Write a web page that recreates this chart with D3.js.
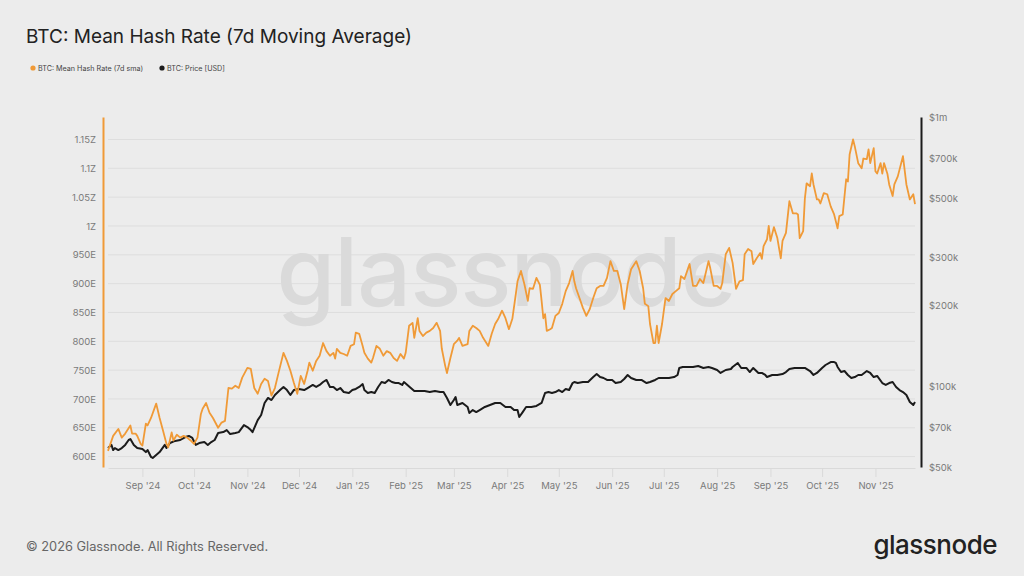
<!DOCTYPE html>
<html>
<head>
<meta charset="utf-8">
<script src="https://cdn.jsdelivr.net/npm/d3@7"></script>
<style>
  html, body { margin: 0; padding: 0; background: #ececec; }
  svg { display: block; font-family: Inter, "Noto Sans", sans-serif; }
</style>
</head>
<body>
<div id="chart"></div>
<script>
// hash rate, EH/s (7d sma)
const hashRate = [
  ["2024-08-12", 610], ["2024-08-15", 636], ["2024-08-18", 648], ["2024-08-20", 633], ["2024-08-22", 640],
  ["2024-08-25", 654], ["2024-08-26", 640], ["2024-08-28", 640], ["2024-08-29", 636], ["2024-08-31", 622],
  ["2024-09-01", 619], ["2024-09-03", 657], ["2024-09-04", 654], ["2024-09-06", 667], ["2024-09-09", 692],
  ["2024-09-11", 667], ["2024-09-13", 645], ["2024-09-15", 622], ["2024-09-16", 616], ["2024-09-18", 642],
  ["2024-09-19", 628], ["2024-09-21", 638], ["2024-09-23", 633], ["2024-09-25", 636], ["2024-09-27", 633],
  ["2024-09-29", 628], ["2024-10-01", 622], ["2024-10-03", 633], ["2024-10-05", 674], ["2024-10-06", 683],
  ["2024-10-08", 693], ["2024-10-10", 676], ["2024-10-12", 667], ["2024-10-15", 650], ["2024-10-17", 659],
  ["2024-10-19", 662], ["2024-10-21", 719], ["2024-10-23", 718], ["2024-10-25", 723], ["2024-10-27", 719],
  ["2024-10-29", 737], ["2024-11-01", 754], ["2024-11-03", 752], ["2024-11-05", 719], ["2024-11-07", 709],
  ["2024-11-09", 726], ["2024-11-11", 735], ["2024-11-13", 731], ["2024-11-15", 706], ["2024-11-17", 719],
  ["2024-11-19", 744], ["2024-11-22", 780], ["2024-11-24", 766], ["2024-11-26", 749], ["2024-11-28", 728],
  ["2024-11-30", 709], ["2024-12-02", 740], ["2024-12-04", 726], ["2024-12-06", 749], ["2024-12-07", 763],
  ["2024-12-09", 749], ["2024-12-11", 766], ["2024-12-13", 775], ["2024-12-15", 797], ["2024-12-17", 783],
  ["2024-12-19", 775], ["2024-12-21", 780], ["2024-12-22", 770], ["2024-12-23", 787], ["2024-12-25", 780],
  ["2024-12-27", 778], ["2024-12-29", 775], ["2024-12-31", 792], ["2025-01-02", 795], ["2025-01-03", 815],
  ["2025-01-05", 813], ["2025-01-07", 792], ["2025-01-08", 780], ["2025-01-10", 770], ["2025-01-12", 763],
  ["2025-01-13", 771], ["2025-01-15", 792], ["2025-01-17", 787], ["2025-01-19", 775], ["2025-01-21", 783],
  ["2025-01-23", 780], ["2025-01-25", 771], ["2025-01-27", 766], ["2025-01-29", 778], ["2025-01-31", 770],
  ["2025-02-01", 780], ["2025-02-03", 827], ["2025-02-05", 832], ["2025-02-06", 806], ["2025-02-08", 840],
  ["2025-02-09", 818], ["2025-02-11", 809], ["2025-02-13", 815], ["2025-02-15", 818], ["2025-02-17", 823],
  ["2025-02-19", 832], ["2025-02-21", 818], ["2025-02-22", 787], ["2025-02-24", 757], ["2025-02-25", 745],
  ["2025-02-27", 771], ["2025-03-01", 795], ["2025-03-03", 801], ["2025-03-04", 806], ["2025-03-06", 792],
  ["2025-03-09", 795], ["2025-03-10", 818], ["2025-03-12", 827], ["2025-03-14", 823], ["2025-03-16", 818],
  ["2025-03-18", 806], ["2025-03-21", 792], ["2025-03-23", 813], ["2025-03-25", 830], ["2025-03-27", 840],
  ["2025-03-29", 853], ["2025-03-31", 840], ["2025-04-02", 821], ["2025-04-04", 839], ["2025-04-06", 882],
  ["2025-04-07", 904], ["2025-04-09", 922], ["2025-04-11", 899], ["2025-04-13", 870], ["2025-04-14", 892],
  ["2025-04-16", 891], ["2025-04-18", 910], ["2025-04-20", 898], ["2025-04-21", 870], ["2025-04-22", 840],
  ["2025-04-23", 847], ["2025-04-24", 818], ["2025-04-26", 821], ["2025-04-27", 823], ["2025-04-29", 844],
  ["2025-05-01", 849], ["2025-05-03", 865], ["2025-05-05", 887], ["2025-05-07", 901], ["2025-05-09", 922],
  ["2025-05-10", 904], ["2025-05-11", 892], ["2025-05-13", 875], ["2025-05-15", 858], ["2025-05-17", 844],
  ["2025-05-19", 856], ["2025-05-21", 875], ["2025-05-23", 892], ["2025-05-25", 896], ["2025-05-27", 896],
  ["2025-05-29", 910], ["2025-05-31", 939], ["2025-06-02", 922], ["2025-06-04", 922], ["2025-06-06", 899],
  ["2025-06-08", 856], ["2025-06-10", 899], ["2025-06-12", 925], ["2025-06-15", 939], ["2025-06-17", 922],
  ["2025-06-19", 892], ["2025-06-20", 865], ["2025-06-22", 861], ["2025-06-23", 830], ["2025-06-25", 797],
  ["2025-06-26", 797], ["2025-06-27", 827], ["2025-06-28", 797], ["2025-06-30", 830], ["2025-07-02", 875],
  ["2025-07-04", 870], ["2025-07-06", 882], ["2025-07-08", 887], ["2025-07-10", 892], ["2025-07-11", 913],
  ["2025-07-13", 908], ["2025-07-16", 934], ["2025-07-18", 896], ["2025-07-20", 896], ["2025-07-22", 908],
  ["2025-07-24", 901], ["2025-07-27", 939], ["2025-07-28", 927], ["2025-07-30", 896], ["2025-08-01", 896],
  ["2025-08-03", 891], ["2025-08-04", 901], ["2025-08-06", 951], ["2025-08-08", 962], ["2025-08-10", 936],
  ["2025-08-12", 891], ["2025-08-14", 904], ["2025-08-16", 906], ["2025-08-17", 951], ["2025-08-19", 960],
  ["2025-08-21", 956], ["2025-08-22", 934], ["2025-08-24", 944], ["2025-08-26", 953], ["2025-08-27", 943],
  ["2025-08-28", 965], ["2025-08-30", 977], ["2025-08-31", 1000], ["2025-09-01", 974], ["2025-09-03", 998],
  ["2025-09-05", 979], ["2025-09-07", 944], ["2025-09-08", 974], ["2025-09-10", 988], ["2025-09-12", 1043],
  ["2025-09-14", 1022], ["2025-09-16", 1022], ["2025-09-17", 1020], ["2025-09-18", 979], ["2025-09-20", 991],
  ["2025-09-21", 1048], ["2025-09-22", 1074], ["2025-09-24", 1069], ["2025-09-25", 1091], ["2025-09-26", 1072],
  ["2025-09-28", 1046], ["2025-09-29", 1046], ["2025-09-30", 1039], ["2025-10-02", 1057], ["2025-10-04", 1055],
  ["2025-10-06", 1034], ["2025-10-08", 1020], ["2025-10-09", 1008], ["2025-10-10", 996], ["2025-10-11", 1017],
  ["2025-10-13", 1020], ["2025-10-15", 1081], ["2025-10-16", 1077], ["2025-10-17", 1124], ["2025-10-19", 1150],
  ["2025-10-20", 1138], ["2025-10-22", 1109], ["2025-10-24", 1100], ["2025-10-25", 1117], ["2025-10-27", 1116],
  ["2025-10-28", 1133], ["2025-10-29", 1109], ["2025-10-31", 1135], ["2025-11-01", 1095], ["2025-11-02", 1091],
  ["2025-11-04", 1109], ["2025-11-05", 1091], ["2025-11-06", 1109], ["2025-11-08", 1090], ["2025-11-09", 1072],
  ["2025-11-11", 1052], ["2025-11-12", 1072], ["2025-11-14", 1086], ["2025-11-17", 1121], ["2025-11-19", 1072],
  ["2025-11-21", 1046], ["2025-11-23", 1055], ["2025-11-24", 1038]
];

// BTC price, USD
const price = [
  ["2024-08-12", 58800], ["2024-08-14", 60400], ["2024-08-15", 57800], ["2024-08-16", 58800], ["2024-08-18", 57800],
  ["2024-08-20", 58800], ["2024-08-22", 60400], ["2024-08-24", 63000], ["2024-08-25", 63500], ["2024-08-27", 60400],
  ["2024-08-29", 58800], ["2024-09-01", 58300], ["2024-09-03", 56800], ["2024-09-04", 57800], ["2024-09-06", 54500],
  ["2024-09-07", 54000], ["2024-09-09", 55400], ["2024-09-11", 56800], ["2024-09-14", 60400], ["2024-09-15", 58800],
  ["2024-09-17", 61400], ["2024-09-20", 62500], ["2024-09-23", 63000], ["2024-09-26", 64600], ["2024-09-28", 65200],
  ["2024-09-30", 64100], ["2024-10-02", 60400], ["2024-10-04", 61400], ["2024-10-07", 61900], ["2024-10-09", 60400],
  ["2024-10-11", 61900], ["2024-10-13", 63000], ["2024-10-15", 66900], ["2024-10-18", 67400], ["2024-10-20", 68600],
  ["2024-10-22", 66300], ["2024-10-25", 66900], ["2024-10-27", 67400], ["2024-10-30", 71600], ["2024-11-01", 70400],
  ["2024-11-03", 68600], ["2024-11-04", 67400], ["2024-11-07", 74700], ["2024-11-09", 78000], ["2024-11-11", 86500],
  ["2024-11-13", 90300], ["2024-11-15", 88700], ["2024-11-17", 92600], ["2024-11-20", 96600], ["2024-11-22", 99200],
  ["2024-11-24", 96600], ["2024-11-26", 92600], ["2024-11-28", 96600], ["2024-12-01", 97500], ["2024-12-04", 96600],
  ["2024-12-06", 98300], ["2024-12-09", 100900], ["2024-12-11", 99200], ["2024-12-13", 100900], ["2024-12-15", 103500],
  ["2024-12-17", 105300], ["2024-12-19", 99200], ["2024-12-21", 99200], ["2024-12-23", 96600], ["2024-12-25", 98300],
  ["2024-12-27", 95000], ["2024-12-30", 94200], ["2025-01-01", 96600], ["2025-01-03", 97500], ["2025-01-05", 99200],
  ["2025-01-07", 101700], ["2025-01-08", 96600], ["2025-01-10", 94200], ["2025-01-12", 95000], ["2025-01-14", 94200],
  ["2025-01-16", 99200], ["2025-01-18", 103500], ["2025-01-20", 102600], ["2025-01-22", 105300], ["2025-01-24", 103500],
  ["2025-01-26", 102600], ["2025-01-28", 102600], ["2025-01-30", 100900], ["2025-01-31", 103500], ["2025-02-02", 100900],
  ["2025-02-04", 98300], ["2025-02-06", 95800], ["2025-02-09", 95800], ["2025-02-12", 95800], ["2025-02-15", 95000],
  ["2025-02-18", 95800], ["2025-02-21", 95000], ["2025-02-23", 95000], ["2025-02-25", 90300], ["2025-02-27", 85000],
  ["2025-03-01", 88700], ["2025-03-02", 91000], ["2025-03-03", 85000], ["2025-03-06", 86500], ["2025-03-09", 83600],
  ["2025-03-10", 79400], ["2025-03-12", 81400], ["2025-03-14", 80000], ["2025-03-16", 81400], ["2025-03-19", 83600],
  ["2025-03-22", 85000], ["2025-03-25", 86500], ["2025-03-28", 86500], ["2025-03-31", 83600], ["2025-04-03", 83600],
  ["2025-04-05", 81400], ["2025-04-07", 81400], ["2025-04-08", 76700], ["2025-04-10", 80000], ["2025-04-12", 83600],
  ["2025-04-15", 83600], ["2025-04-18", 84300], ["2025-04-21", 86500], ["2025-04-22", 90300], ["2025-04-23", 94200],
  ["2025-04-25", 95000], ["2025-04-27", 94200], ["2025-04-29", 95000], ["2025-05-01", 96600], ["2025-05-03", 95000],
  ["2025-05-05", 97500], ["2025-05-07", 96600], ["2025-05-09", 102600], ["2025-05-10", 103500], ["2025-05-12", 102600],
  ["2025-05-15", 103500], ["2025-05-18", 103500], ["2025-05-21", 108000], ["2025-05-23", 110800], ["2025-05-25", 108000],
  ["2025-05-27", 107100], ["2025-05-29", 105300], ["2025-06-01", 105300], ["2025-06-03", 102600], ["2025-06-06", 103500],
  ["2025-06-08", 106200], ["2025-06-10", 109900], ["2025-06-12", 107100], ["2025-06-15", 105300], ["2025-06-18", 105300],
  ["2025-06-21", 102600], ["2025-06-23", 103500], ["2025-06-26", 105300], ["2025-06-28", 107100], ["2025-07-01", 107100],
  ["2025-07-04", 107100], ["2025-07-07", 108000], ["2025-07-09", 109900], ["2025-07-10", 116700], ["2025-07-12", 117700],
  ["2025-07-15", 117700], ["2025-07-18", 117700], ["2025-07-21", 118700], ["2025-07-24", 116700], ["2025-07-27", 117700],
  ["2025-07-29", 116700], ["2025-08-01", 114700], ["2025-08-03", 111800], ["2025-08-06", 114700], ["2025-08-09", 115700],
  ["2025-08-10", 117700], ["2025-08-13", 121800], ["2025-08-15", 116700], ["2025-08-18", 116700], ["2025-08-20", 112700],
  ["2025-08-22", 116700], ["2025-08-25", 111800], ["2025-08-27", 111800], ["2025-08-29", 109900], ["2025-08-30", 108000],
  ["2025-09-02", 109900], ["2025-09-05", 109900], ["2025-09-08", 110800], ["2025-09-10", 112700], ["2025-09-12", 115700],
  ["2025-09-15", 116700], ["2025-09-18", 116700], ["2025-09-21", 116700], ["2025-09-24", 113700], ["2025-09-26", 109900],
  ["2025-09-28", 111800], ["2025-10-01", 116700], ["2025-10-03", 119700], ["2025-10-06", 122800], ["2025-10-08", 122800],
  ["2025-10-09", 121800], ["2025-10-10", 117700], ["2025-10-12", 112700], ["2025-10-14", 113700], ["2025-10-16", 109900],
  ["2025-10-18", 107100], ["2025-10-20", 108000], ["2025-10-22", 109900], ["2025-10-24", 109900], ["2025-10-27", 113700],
  ["2025-10-29", 111800], ["2025-10-31", 108000], ["2025-11-02", 109000], ["2025-11-05", 102600], ["2025-11-07", 100900],
  ["2025-11-09", 102600], ["2025-11-11", 103500], ["2025-11-13", 99200], ["2025-11-15", 96600], ["2025-11-17", 95000],
  ["2025-11-19", 92600], ["2025-11-21", 87200], ["2025-11-23", 85000], ["2025-11-24", 87200]
];

const hashTicks = [600, 650, 700, 750, 800, 850, 900, 950, 1000, 1050, 1100, 1150];
const priceTicks = [50000, 70000, 100000, 200000, 300000, 500000, 700000, 1000000];
const priceTickLabels = ["$50k", "$70k", "$100k", "$200k", "$300k", "$500k", "$700k", "$1m"];
const monthTicks = ["2024-09-01", "2024-10-01", "2024-11-01", "2024-12-01", "2025-01-01", "2025-02-01",
  "2025-03-01", "2025-04-01", "2025-05-01", "2025-06-01", "2025-07-01", "2025-08-01", "2025-09-01",
  "2025-10-01", "2025-11-01"];
const seriesNames = ["BTC: Mean Hash Rate (7d sma)", "BTC: Price [USD]"];

const parse = d3.timeParse("%Y-%m-%d");
const hashData = hashRate.map(d => ({ date: parse(d[0]), value: d[1] }));
const priceData = price.map(d => ({ date: parse(d[0]), value: d[1] }));

let width = 1024, height = 576;
let plot = { left: 108, right: 915, top: 117, bottom: 467 };
let orange = "#f09a37", black = "#1b1b1b";

let svg = d3.select("#chart")
            .append("svg")
            .attr("width", width)
            .attr("height", height)

svg.append("rect")
   .attr("width", width)
   .attr("height", height)
   .attr("fill", "#ececec")

let xscale = d3.scaleTime()
               .domain([parse("2024-08-12"), parse("2025-11-24")])
               .range([plot.left, plot.right])

let yHash = d3.scaleLinear()
              .domain([582, 1189])
              .range([plot.bottom, plot.top])

let yPrice = d3.scaleLog()
               .domain([50000, 1000000])
               .range([plot.bottom, plot.top])

// grid
svg.append("g")
   .selectAll("line")
   .data(hashTicks)
   .enter()
   .append("line")
   .attr("x1", plot.left)
   .attr("x2", plot.right)
   .attr("y1", d => yHash(d))
   .attr("y2", d => yHash(d))
   .attr("stroke", "#dedede")
   .attr("stroke-width", 1)

// watermark
svg.append("text")
   .text("glassnode")
   .attr("x", 506)
   .attr("y", 306)
   .attr("text-anchor", "middle")
   .attr("font-size", 95)
   .attr("font-weight", 500)
   .attr("letter-spacing", -1)
   .attr("fill", "#dadada")

// x axis
let xaxis = svg.append("g")
               .attr("transform", `translate(0,${plot.bottom + 1})`)
               .call(d3.axisBottom(xscale)
                       .tickValues(monthTicks.map(parse))
                       .tickFormat(d3.timeFormat("%b '%y"))
                       .tickSize(9)
                       .tickSizeOuter(0)
                       .tickPadding(5))
xaxis.select(".domain").attr("stroke", "#dadada")
xaxis.selectAll(".tick line").attr("stroke", "#dadada")
xaxis.selectAll("text").attr("fill", "#7a7a7a").attr("font-size", 9.5).attr("font-family", "Inter")

// left axis
let yaxis = svg.append("g")
               .attr("transform", "translate(103,0)")
               .call(d3.axisLeft(yHash)
                       .tickValues(hashTicks)
                       .tickFormat(d => d >= 1000 ? (d / 1000) + "Z" : d + "E")
                       .tickSize(0)
                       .tickPadding(7))
yaxis.select(".domain").attr("stroke", orange).attr("stroke-width", 2)
yaxis.selectAll("text").attr("fill", "#7a7a7a").attr("font-size", 9.5).attr("font-family", "Inter")

// right axis
let raxis = svg.append("g")
               .attr("transform", "translate(921,0)")
               .call(d3.axisRight(yPrice)
                       .tickValues(priceTicks)
                       .tickFormat((d, i) => priceTickLabels[i])
                       .tickSize(0)
                       .tickPadding(8))
raxis.select(".domain").attr("stroke", black).attr("stroke-width", 2)
raxis.selectAll("text").attr("fill", "#7a7a7a").attr("font-size", 9.5).attr("font-family", "Inter")

// lines
let hashLine = d3.line()
                 .x(d => xscale(d.date))
                 .y(d => yHash(d.value))

let priceLine = d3.line()
                  .x(d => xscale(d.date))
                  .y(d => yPrice(d.value))

svg.append("path")
   .datum(priceData)
   .attr("d", priceLine)
   .attr("fill", "none")
   .attr("stroke", black)
   .attr("stroke-width", 2)
   .attr("stroke-linejoin", "round")

svg.append("path")
   .datum(hashData)
   .attr("d", hashLine)
   .attr("fill", "none")
   .attr("stroke", orange)
   .attr("stroke-width", 1.8)
   .attr("stroke-linejoin", "round")

// title
svg.append("text")
   .text("BTC: Mean Hash Rate (7d Moving Average)")
   .attr("x", 26)
   .attr("y", 43)
   .attr("font-size", 19)
   .attr("fill", "#222")

// legend
let legend = svg.append("g")
                .selectAll("g")
                .data(seriesNames)
                .enter()
                .append("g")
                .attr("transform", (d, i) => `translate(${i === 0 ? 33 : 162},68)`)
legend.append("circle")
      .attr("r", 2.6)
      .attr("fill", (d, i) => i === 0 ? orange : black)
legend.append("text")
      .text(d => d)
      .attr("x", 5)
      .attr("y", 2.6)
      .attr("font-size", 7.2)
      .attr("fill", "#444")

// footer
svg.append("text")
   .text("© 2026 Glassnode. All Rights Reserved.")
   .attr("x", 26)
   .attr("y", 551)
   .attr("font-size", 12.8)
   .attr("fill", "#666")

svg.append("text")
   .text("glassnode")
   .attr("x", 997)
   .attr("y", 554)
   .attr("text-anchor", "end")
   .attr("font-size", 26)
   .attr("font-weight", 500)
   .attr("letter-spacing", -0.5)
   .attr("fill", "#222")
</script>
</body>
</html>
